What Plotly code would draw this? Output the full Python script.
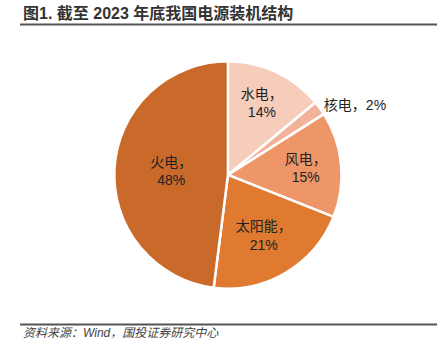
import plotly.graph_objects as go

labels = ["水电", "核电", "风电", "太阳能", "火电"]
values = [14, 2, 15, 21, 48]
colors = ["#F6CCBA", "#F2B29A", "#EE9667", "#E07A31", "#C96A2A"]
text_pos = ["inside", "outside", "inside", "inside", "inside"]
texts = [f"{l}，<br>{v}%" if p == "inside" else f"{l}，{v}%" for l, v, p in zip(labels, values, text_pos)]

fig = go.Figure(go.Pie(
    labels=labels, values=values, sort=False, direction="clockwise", rotation=0,
    marker=dict(colors=colors, line=dict(color="white", width=2.5)),
    text=texts, textinfo="text", textposition=text_pos,
    insidetextorientation="horizontal",
    textfont=dict(family="Liberation Sans, Noto Sans CJK SC", size=14, color="#222222"),
    domain=dict(x=[0.258, 0.771], y=[0.198, 0.830]),
    showlegend=False, hoverinfo="label+percent",
))

fig.update_layout(
    width=443, height=360, margin=dict(l=0, r=0, t=0, b=0),
    paper_bgcolor="white", plot_bgcolor="white",
    shapes=[
        dict(type="line", xref="paper", yref="paper", x0=20/443, x1=437/443, y0=1-24.5/360, y1=1-24.5/360,
             line=dict(color="#555555", width=2)),
        dict(type="line", xref="paper", yref="paper", x0=20/443, x1=437/443, y0=1-324.5/360, y1=1-324.5/360,
             line=dict(color="#555555", width=2)),
    ],
    annotations=[
        dict(text="<b>图1. 截至 2023 年底我国电源装机结构</b>", xref="paper", yref="paper",
             x=21/443, y=1-13.5/360, xanchor="left", yanchor="middle", showarrow=False,
             font=dict(family="Liberation Sans, Noto Sans CJK SC", size=16, color="#333333")),
        dict(text="<i>资料来源：Wind，国投证券研究中心</i>", xref="paper", yref="paper",
             x=21/443, y=1-333/360, xanchor="left", yanchor="middle", showarrow=False,
             font=dict(family="Liberation Sans, Noto Sans CJK SC", size=12, color="#444444")),
    ],
)

fig.write_html("out.html", config={"displayModeBar": False},
               post_script="document.body.style.margin='0';")
